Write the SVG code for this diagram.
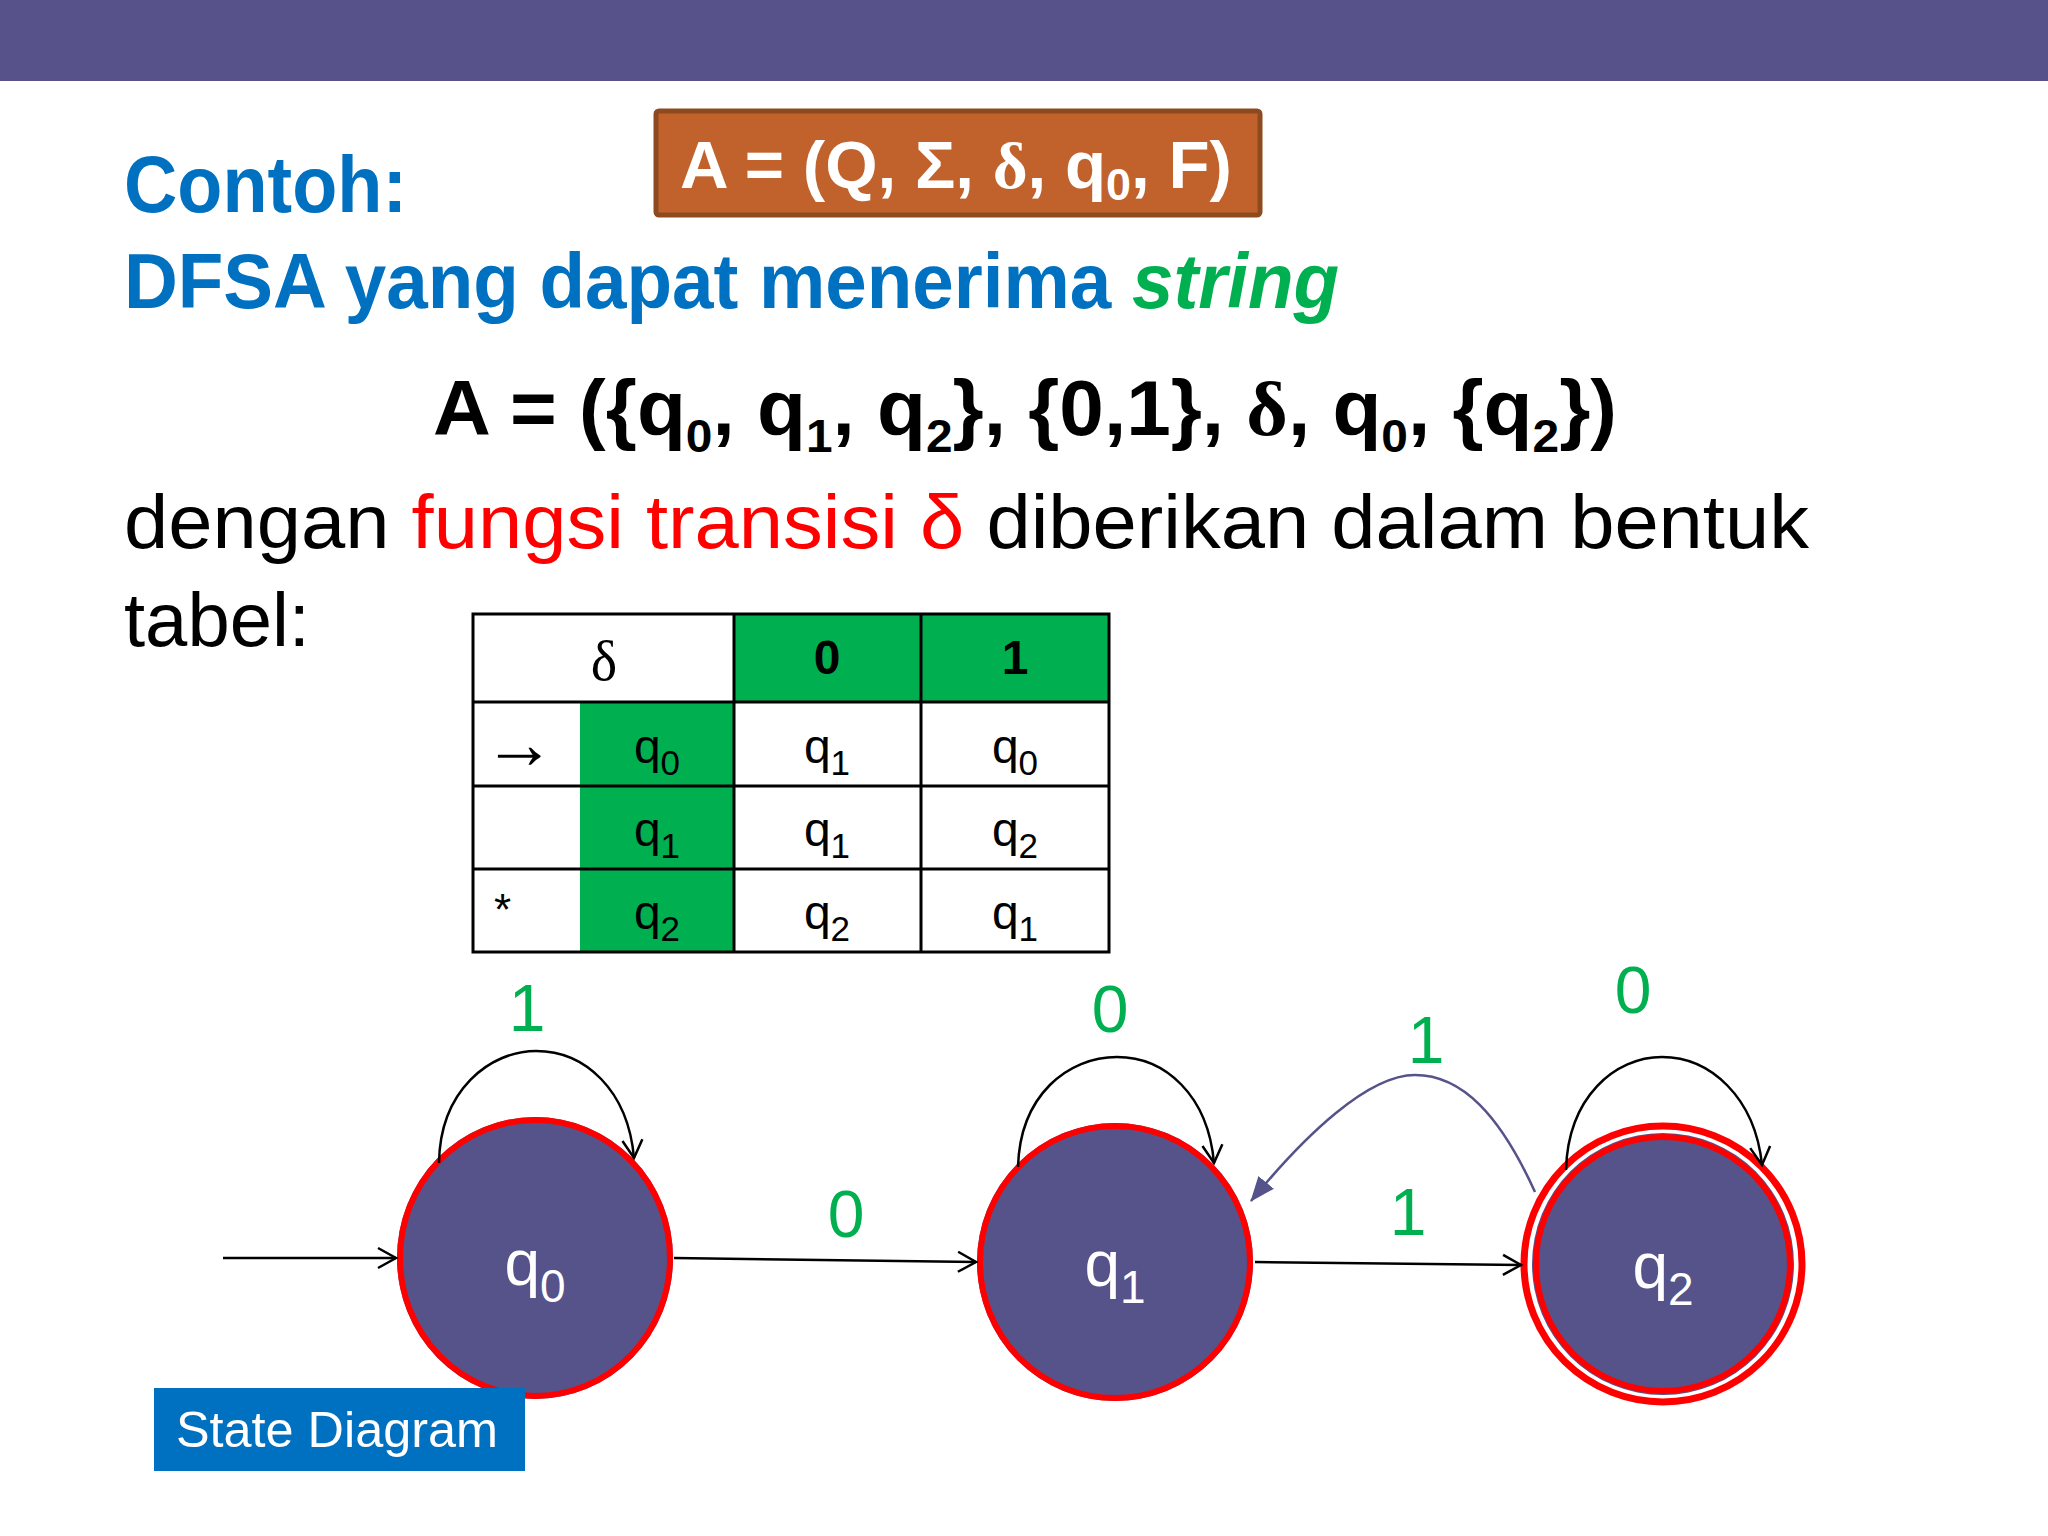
<svg xmlns="http://www.w3.org/2000/svg" width="2048" height="1536" viewBox="0 0 2048 1536">
  <style>
    .sans { font-family: "Liberation Sans", Arial, sans-serif; }
    .serif { font-family: "Liberation Serif", "Times New Roman", serif; }
    .bold { font-weight: bold; }
    .blue { fill: #0070C0; }
    .green { fill: #00B050; }
    .lbl { font-family: "Liberation Sans", Arial, sans-serif; font-size: 66px; fill: #00B050; text-anchor: middle; }
    .node-fill { fill: #56528A; }
    .ring { fill: none; stroke: #FF0000; stroke-width: 6; }
    .nlabel { font-family: "Liberation Sans", Arial, sans-serif; font-size: 64px; fill: #FFFFFF; text-anchor: middle; }
    .cell { font-family: "Liberation Sans", Arial, sans-serif; font-size: 48px; fill: #000000; text-anchor: middle; }
    .edge { fill: none; stroke: #000000; stroke-width: 2.5; marker-end: url(#open); }
    .grid { stroke: #000000; stroke-width: 3; fill: none; }
  </style>
  <defs>
    <marker id="open" viewBox="0 0 24 24" markerWidth="24" markerHeight="24" refX="21" refY="12" orient="auto" markerUnits="userSpaceOnUse">
      <path d="M3,2 L21,12 L3,22" fill="none" stroke="#000000" stroke-width="2.5"/>
    </marker>
    <marker id="solid" viewBox="0 0 26 20" markerWidth="26" markerHeight="20" refX="24" refY="10" orient="auto" markerUnits="userSpaceOnUse">
      <path d="M0,0 L25,10 L0,20 Z" fill="#56528A"/>
    </marker>
  </defs>

  <rect x="0" y="0" width="2048" height="1536" fill="#FFFFFF"/>
  <rect x="0" y="0" width="2048" height="81" fill="#57538A"/>

  <g id="title">
    <text class="sans bold blue" x="124" y="212" font-size="80" textLength="283" lengthAdjust="spacingAndGlyphs">Contoh:</text>
    <text class="sans bold blue" x="124" y="308" font-size="78" textLength="1215" lengthAdjust="spacingAndGlyphs">DFSA yang dapat menerima <tspan class="green" font-style="italic">string</tspan></text>
  </g>

  <g id="tuple-box">
    <rect x="656" y="111" width="604" height="104" rx="3" fill="#C1622D" stroke="#8E4A1F" stroke-width="5"/>
    <text class="sans bold" x="680" y="188" font-size="66" fill="#FFFFFF" textLength="552" lengthAdjust="spacingAndGlyphs">A = (Q, Σ, <tspan class="serif">δ</tspan>, q<tspan font-size="44" dy="12">0</tspan><tspan dy="-12">, F)</tspan></text>
  </g>

  <g id="formula">
    <text class="sans bold" x="433" y="435" font-size="77" fill="#000000" textLength="1184" lengthAdjust="spacingAndGlyphs">A = ({q<tspan font-size="46" dy="17">0</tspan><tspan dy="-17">, q</tspan><tspan font-size="46" dy="17">1</tspan><tspan dy="-17">, q</tspan><tspan font-size="46" dy="17">2</tspan><tspan dy="-17">}, {0,1}, </tspan><tspan class="serif">δ</tspan>, q<tspan font-size="46" dy="17">0</tspan><tspan dy="-17">, {q</tspan><tspan font-size="46" dy="17">2</tspan><tspan dy="-17">})</tspan></text>
  </g>

  <g id="sentence">
    <text class="sans" x="124" y="548" font-size="76" fill="#000000" textLength="1685" lengthAdjust="spacingAndGlyphs">dengan <tspan fill="#FF0000">fungsi transisi δ</tspan> diberikan dalam bentuk</text>
    <text class="sans" x="124" y="646" font-size="76" fill="#000000">tabel:</text>
  </g>

  <g id="table">
    <rect x="734" y="614" width="375" height="88" fill="#00B050"/>
    <rect x="580" y="702" width="154" height="250" fill="#00B050"/>
    <rect class="grid" x="473" y="614" width="636" height="338"/>
    <line class="grid" x1="734" y1="614" x2="734" y2="952"/>
    <line class="grid" x1="921" y1="614" x2="921" y2="952"/>
    <line class="grid" x1="473" y1="702" x2="1109" y2="702"/>
    <line class="grid" x1="473" y1="786" x2="1109" y2="786"/>
    <line class="grid" x1="473" y1="869" x2="1109" y2="869"/>
    <text class="serif" x="604" y="680" font-size="56" text-anchor="middle">δ</text>
    <text class="sans bold" x="827" y="674" font-size="48" text-anchor="middle">0</text>
    <text class="sans bold" x="1015" y="674" font-size="48" text-anchor="middle">1</text>
    <text class="serif" x="519" y="768" font-size="72" text-anchor="middle">→</text>
    <text class="sans" x="494" y="925" font-size="44">*</text>
    <text class="cell" x="657" y="763">q<tspan font-size="35" dy="12">0</tspan></text>
    <text class="cell" x="827" y="763">q<tspan font-size="35" dy="12">1</tspan></text>
    <text class="cell" x="1015" y="763">q<tspan font-size="35" dy="12">0</tspan></text>
    <text class="cell" x="657" y="846">q<tspan font-size="35" dy="12">1</tspan></text>
    <text class="cell" x="827" y="846">q<tspan font-size="35" dy="12">1</tspan></text>
    <text class="cell" x="1015" y="846">q<tspan font-size="35" dy="12">2</tspan></text>
    <text class="cell" x="657" y="929">q<tspan font-size="35" dy="12">2</tspan></text>
    <text class="cell" x="827" y="929">q<tspan font-size="35" dy="12">2</tspan></text>
    <text class="cell" x="1015" y="929">q<tspan font-size="35" dy="12">1</tspan></text>
  </g>

  <g id="node-q0">
    <ellipse class="node-fill" cx="535" cy="1258" rx="138" ry="141"/>
    <ellipse class="ring" cx="535" cy="1258" rx="135" ry="138"/>
    <text class="nlabel" x="535" y="1285">q<tspan font-size="46" dy="17">0</tspan></text>
  </g>

  <g id="node-q1">
    <ellipse class="node-fill" cx="1115" cy="1262" rx="138" ry="139"/>
    <ellipse class="ring" cx="1115" cy="1262" rx="135" ry="136"/>
    <text class="nlabel" x="1115" y="1286">q<tspan font-size="46" dy="17">1</tspan></text>
  </g>

  <g id="node-q2">
    <ellipse cx="1663" cy="1264" rx="139" ry="138" fill="#FFFFFF" stroke="#FF0000" stroke-width="7"/>
    <ellipse class="node-fill" cx="1663" cy="1264" rx="131" ry="131"/>
    <ellipse class="ring" cx="1663" cy="1264" rx="127" ry="127"/>
    <text class="nlabel" x="1663" y="1288">q<tspan font-size="46" dy="17">2</tspan></text>
  </g>

  <g id="state-diagram-label">
    <rect x="154" y="1388" width="371" height="83" fill="#0070C0"/>
    <text class="sans" x="176" y="1447" font-size="50" fill="#FFFFFF" textLength="322" lengthAdjust="spacingAndGlyphs">State Diagram</text>
  </g>

  <g id="connectors">
    <path class="edge" d="M223,1258 L396,1258"/>
    <path class="edge" d="M674,1258 L976,1262"/>
    <path class="edge" d="M1255,1262 L1521,1265"/>
    <path class="edge" d="M439,1163 C440,1090 490,1051 536,1051 C585,1051 628,1090 634,1158"/>
    <path class="edge" d="M1018,1167 C1020,1095 1068,1057 1117,1057 C1165,1057 1208,1095 1214,1163"/>
    <path class="edge" d="M1566,1170 C1568,1097 1615,1057 1662,1057 C1710,1057 1755,1097 1762,1165"/>
    <path d="M1535,1192 C1500,1115 1462,1075 1415,1075 C1368,1075 1305,1135 1251,1201" fill="none" stroke="#56528A" stroke-width="2.5" marker-end="url(#solid)"/>
    <text class="lbl" x="527" y="1031">1</text>
    <text class="lbl" x="1110" y="1032">0</text>
    <text class="lbl" x="1633" y="1013">0</text>
    <text class="lbl" x="1426" y="1063">1</text>
    <text class="lbl" x="846" y="1237">0</text>
    <text class="lbl" x="1408" y="1235">1</text>
  </g>
</svg>
